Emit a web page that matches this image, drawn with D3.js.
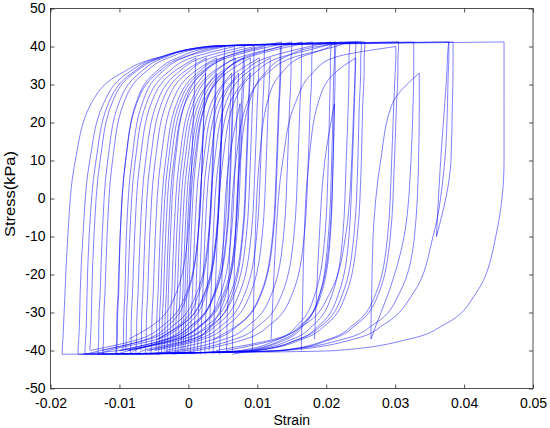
<!DOCTYPE html>
<html>
<head>
  <title>Stress-strain loops</title>
  <script src="https://d3js.org/d3.v7.min.js"></script>
  <style>
    body { margin: 0; background: #fff; }
    text { font-family: "Liberation Sans", Arial, sans-serif; }
  </style>
</head>
<body>
<script type="text/javascript">

// ****** DATA ******

  // every branch gives the strain at these stress levels (kPa), null = not reached
  var stressLevels = [-41, -40, -37, -33, -25, -10, 10, 25, 33, 37, 40, 41.2];

  // loading branches (stress going up)
  var loadingBranches = [
    [-0.0183, -0.0183, -0.0182, -0.0181, -0.0179, -0.0175, -0.0164, -0.0141, -0.0097, -0.0046, 0.0044, 0.0458],
    [-0.0160, -0.0160, -0.0159, -0.0158, -0.0157, -0.0153, -0.0143, -0.0123, -0.0088, -0.0045, 0.0031, 0.0384],
    [-0.0150, -0.0150, -0.0149, -0.0148, -0.0147, -0.0144, -0.0134, -0.0116, -0.0082, -0.0042, 0.0030, 0.0378],
    [null, -0.0143, -0.0142, -0.0141, -0.0140, -0.0137, -0.0128, -0.0111, -0.0079, -0.0040, 0.0026, 0.0327],
    [-0.0131, -0.0131, -0.0130, -0.0130, -0.0128, -0.0125, -0.0117, -0.0101, -0.0071, -0.0036, 0.0027, 0.0305],
    [-0.0124, -0.0124, -0.0123, -0.0123, -0.0121, -0.0118, -0.0110, -0.0094, -0.0064, -0.0029, 0.0034, 0.0256],
    [-0.0104, -0.0104, -0.0103, -0.0103, -0.0101, -0.0099, -0.0091, -0.0076, -0.0049, -0.0016, 0.0042, 0.0251],
    [null, -0.0095, -0.0094, -0.0094, -0.0092, -0.0090, -0.0082, -0.0067, -0.0040, -0.0007, 0.0051, 0.0243],
    [-0.0105, -0.0105, -0.0104, -0.0104, -0.0102, -0.0099, -0.0091, -0.0075, -0.0045, -0.0010, 0.0053, null],
    [null, -0.0091, -0.0090, -0.0090, -0.0088, -0.0085, -0.0077, -0.0061, -0.0031, 0.0004, 0.0067, null],
    [-0.0084, -0.0084, -0.0083, -0.0083, -0.0081, -0.0078, -0.0070, -0.0054, -0.0024, 0.0011, null, null],
    [-0.0076, -0.0076, -0.0075, -0.0075, -0.0073, -0.0070, -0.0062, -0.0046, -0.0016, 0.0019, 0.0082, null],
    [null, -0.0069, -0.0068, -0.0068, -0.0066, -0.0063, -0.0055, -0.0039, -0.0009, 0.0026, null, null],
    [-0.0062, -0.0062, -0.0061, -0.0061, -0.0059, -0.0056, -0.0048, -0.0032, -0.0002, 0.0033, 0.0096, null],
    [-0.0054, -0.0054, -0.0053, -0.0053, -0.0051, -0.0048, -0.0040, -0.0024, 0.0006, 0.0041, null, null],
    [null, -0.0047, -0.0046, -0.0046, -0.0044, -0.0041, -0.0033, -0.0017, 0.0013, 0.0048, 0.0111, null],
    [-0.0043, -0.0043, -0.0042, -0.0042, -0.0040, -0.0037, -0.0029, -0.0013, 0.0017, 0.0052, null, null],
    [-0.0039, -0.0039, -0.0038, -0.0038, -0.0036, -0.0033, -0.0025, -0.0009, 0.0021, 0.0056, 0.0119, 0.0150],
    [null, -0.0035, -0.0034, -0.0034, -0.0032, -0.0029, -0.0021, -0.0005, 0.0025, null, null, null],
    [-0.0031, -0.0031, -0.0030, -0.0030, -0.0029, -0.0026, -0.0019, -0.0005, 0.0020, 0.0050, 0.0104, 0.0135],
    [-0.0027, -0.0027, -0.0026, -0.0026, -0.0024, -0.0021, -0.0013, 0.0003, 0.0033, 0.0068, null, null],
    [null, -0.0023, -0.0022, -0.0022, -0.0020, -0.0017, -0.0009, 0.0007, 0.0037, 0.0072, 0.0135, 0.0165],
    [-0.0019, -0.0019, -0.0018, -0.0018, -0.0016, -0.0013, -0.0005, 0.0011, 0.0041, null, null, null],
    [-0.0015, -0.0015, -0.0014, -0.0014, -0.0012, -0.0009, -0.0001, 0.0015, 0.0045, 0.0080, null, null],
    [null, -0.0011, -0.0010, -0.0010, -0.0008, -0.0005, 0.0003, 0.0019, 0.0049, 0.0084, 0.0147, 0.0180],
    [-0.0008, -0.0008, -0.0007, -0.0007, -0.0005, -0.0002, 0.0006, 0.0022, 0.0052, null, null, null],
    [-0.0005, -0.0005, -0.0004, -0.0004, -0.0002, 0.0001, 0.0009, 0.0025, 0.0055, 0.0090, null, null],
    [null, -0.0001, 0.0000, 0.0000, 0.0001, 0.0004, 0.0011, 0.0025, 0.0050, 0.0080, 0.0134, null],
    [0.0003, 0.0003, 0.0004, 0.0004, 0.0006, 0.0009, 0.0017, 0.0033, 0.0063, null, null, null],
    [0.0008, 0.0008, 0.0009, 0.0009, 0.0011, 0.0014, 0.0022, 0.0038, 0.0068, 0.0103, null, null],
    [null, 0.0013, 0.0014, 0.0014, 0.0016, 0.0019, 0.0027, 0.0043, 0.0073, null, null, null],
    [0.0018, 0.0018, 0.0019, 0.0019, 0.0021, 0.0024, 0.0032, 0.0048, 0.0078, 0.0113, 0.0176, 0.0207],
    [0.0024, 0.0024, 0.0025, 0.0025, 0.0027, 0.0030, 0.0038, 0.0054, 0.0084, 0.0119, null, null],
    [null, 0.0030, 0.0031, 0.0031, 0.0033, 0.0036, 0.0044, 0.0060, 0.0090, null, null, null],
    [0.0036, 0.0036, 0.0037, 0.0037, 0.0039, 0.0042, 0.0050, 0.0066, 0.0096, 0.0131, 0.0194, 0.0214],
    [0.0045, 0.0045, 0.0046, 0.0046, 0.0048, 0.0051, 0.0059, 0.0075, null, null, null, null],
    [null, 0.0055, 0.0056, 0.0056, 0.0058, 0.0061, 0.0069, 0.0085, 0.0115, 0.0150, 0.0213, 0.0234],
    [null, 0.0064, 0.0064, 0.0065, 0.0066, 0.0068, 0.0075, 0.0088, 0.0111, 0.0138, 0.0188, 0.0247],
    [null, 0.0093, 0.0093, 0.0094, 0.0095, 0.0097, 0.0103, 0.0114, 0.0135, 0.0161, 0.0205, 0.0212],
    [null, null, 0.0120, 0.0121, 0.0123, 0.0127, 0.0137, 0.0155, 0.0180, 0.0210, 0.0301, null],
    [null, 0.0164, 0.0164, 0.0165, 0.0166, 0.0168, 0.0175, 0.0188, 0.0212, 0.0243, null, null],
    [null, null, 0.0183, 0.0184, 0.0186, 0.0190, 0.0198, 0.0212, null, null, null, null],
    [null, null, 0.0265, 0.0265, 0.0266, 0.0268, 0.0279, 0.0296, 0.0335, null, null, null],
    [null, null, null, null, null, 0.0360, 0.0366, 0.0372, 0.0375, 0.0376, 0.0377, 0.0378]
  ];

  // unloading branches (stress going down), same stress levels
  var unloadingBranches = [
    [-0.0183, 0.0215, 0.0320, 0.0373, 0.0417, 0.0446, 0.0458, 0.0458, 0.0458, 0.0458, 0.0458, 0.0458],
    [null, null, null, null, null, 0.0360, 0.0381, 0.0383, 0.0384, 0.0384, 0.0384, 0.0384],
    [-0.0160, 0.0140, 0.0240, 0.0285, 0.0326, 0.0355, 0.0372, 0.0376, 0.0377, 0.0378, 0.0378, 0.0378],
    [null, null, 0.0265, 0.0273, 0.0290, 0.0313, 0.0323, 0.0326, 0.0327, 0.0327, 0.0327, 0.0327],
    [-0.0150, 0.0130, 0.0225, 0.0270, 0.0306, 0.0328, 0.0334, 0.0335, 0.0335, null, null, null],
    [-0.0143, 0.0133, 0.0204, 0.0241, 0.0272, 0.0289, 0.0295, 0.0298, 0.0300, 0.0301, 0.0301, null],
    [-0.0131, 0.0137, 0.0208, 0.0245, 0.0276, 0.0293, 0.0299, 0.0302, 0.0304, 0.0304, 0.0305, 0.0305],
    [-0.0124, 0.0100, 0.0166, 0.0201, 0.0229, 0.0245, 0.0251, 0.0253, 0.0255, 0.0255, 0.0256, 0.0256],
    [-0.0104, 0.0095, 0.0161, 0.0196, 0.0224, 0.0240, 0.0246, 0.0248, 0.0250, 0.0250, 0.0251, 0.0251],
    [-0.0095, 0.0099, 0.0160, 0.0192, 0.0218, 0.0233, 0.0238, 0.0241, 0.0242, 0.0242, 0.0243, 0.0243],
    [-0.0083, 0.0090, 0.0151, 0.0183, 0.0209, 0.0224, 0.0229, 0.0232, 0.0233, 0.0233, 0.0234, 0.0234],
    [-0.0075, 0.0082, 0.0138, 0.0167, 0.0191, 0.0205, 0.0210, 0.0212, 0.0213, 0.0213, 0.0214, 0.0214],
    [-0.0056, 0.0075, 0.0131, 0.0160, 0.0184, 0.0198, 0.0203, 0.0205, 0.0206, 0.0206, 0.0207, 0.0207],
    [0.0064, 0.0092, 0.0143, 0.0169, 0.0191, 0.0203, 0.0208, 0.0210, 0.0211, 0.0212, 0.0212, 0.0212],
    [-0.0131, -0.0115, -0.0044, -0.0007, 0.0024, 0.0041, 0.0047, 0.0050, 0.0052, 0.0052, 0.0053, null],
    [null, -0.0101, -0.0030, 0.0007, 0.0038, 0.0055, 0.0061, 0.0064, 0.0066, 0.0066, 0.0067, null],
    [null, null, -0.0086, -0.0049, -0.0018, -0.0001, 0.0005, 0.0008, 0.0010, 0.0011, null, null],
    [-0.0104, -0.0086, -0.0015, 0.0022, 0.0053, 0.0070, 0.0076, 0.0079, 0.0081, 0.0081, 0.0082, null],
    [null, -0.0142, -0.0071, -0.0034, -0.0003, 0.0014, 0.0020, 0.0023, 0.0025, 0.0026, null, null],
    [null, null, -0.0001, 0.0036, 0.0067, 0.0084, 0.0090, 0.0093, 0.0095, 0.0095, 0.0096, null],
    [-0.0150, -0.0127, -0.0056, -0.0019, 0.0012, 0.0029, 0.0035, 0.0038, 0.0040, 0.0041, null, null],
    [null, -0.0057, 0.0014, 0.0051, 0.0082, 0.0099, 0.0105, 0.0108, 0.0110, 0.0110, 0.0111, null],
    [null, null, -0.0045, -0.0008, 0.0023, 0.0040, 0.0046, 0.0049, 0.0051, 0.0052, null, null],
    [-0.0062, -0.0018, 0.0053, 0.0090, 0.0121, 0.0138, 0.0144, 0.0147, 0.0149, 0.0149, 0.0150, 0.0150],
    [null, -0.0125, -0.0060, -0.0027, -0.0001, 0.0014, 0.0020, 0.0023, 0.0025, null, null, null],
    [null, -0.0033, 0.0038, 0.0075, 0.0106, 0.0123, 0.0129, 0.0132, 0.0134, 0.0134, 0.0135, 0.0135],
    [-0.0155, -0.0100, -0.0029, 0.0008, 0.0039, 0.0056, 0.0062, 0.0065, 0.0067, 0.0068, null, null],
    [-0.0047, -0.0003, 0.0068, 0.0105, 0.0136, 0.0153, 0.0159, 0.0162, 0.0164, 0.0164, 0.0165, 0.0165],
    [null, null, -0.0044, -0.0011, 0.0015, 0.0030, 0.0036, 0.0039, 0.0041, null, null, null],
    [null, -0.0088, -0.0017, 0.0020, 0.0051, 0.0068, 0.0074, 0.0077, 0.0079, 0.0080, null, null],
    [-0.0023, 0.0012, 0.0083, 0.0120, 0.0151, 0.0168, 0.0174, 0.0177, 0.0179, 0.0179, 0.0180, 0.0180],
    [null, -0.0098, -0.0033, 0.0000, 0.0026, 0.0041, 0.0047, 0.0050, 0.0052, null, null, null],
    [-0.0084, -0.0078, -0.0007, 0.0030, 0.0061, 0.0078, 0.0084, 0.0087, 0.0089, 0.0090, null, null],
    [null, null, 0.0037, 0.0074, 0.0105, 0.0122, 0.0128, 0.0131, 0.0133, 0.0133, 0.0134, null],
    [null, -0.0087, -0.0022, 0.0011, 0.0037, 0.0052, 0.0058, 0.0061, 0.0063, null, null, null],
    [-0.0076, -0.0065, 0.0006, 0.0043, 0.0074, 0.0091, 0.0097, 0.0100, 0.0102, 0.0103, null, null],
    [null, null, -0.0012, 0.0021, 0.0047, 0.0062, 0.0068, 0.0071, 0.0073, null, null, null],
    [null, -0.0049, 0.0022, 0.0059, 0.0090, 0.0107, 0.0113, 0.0116, 0.0118, 0.0119, null, null],
    [null, -0.0060, 0.0005, 0.0038, 0.0064, 0.0079, 0.0085, 0.0088, 0.0090, null, null, null],
    [null, null, 0.0015, 0.0035, 0.0055, 0.0068, 0.0073, 0.0075, null, null, null, null],
    [null, 0.0040, 0.0125, 0.0170, 0.0205, 0.0228, 0.0237, 0.0240, 0.0242, 0.0243, null, null],
    [null, 0.0055, 0.0130, 0.0165, 0.0193, 0.0206, 0.0210, 0.0212, null, null, null, null]
  ];

  var xTicks = [-0.02, -0.01, 0, 0.01, 0.02, 0.03, 0.04, 0.05],
      xTickLabels = ["-0.02", "-0.01", "0", "0.01", "0.02", "0.03", "0.04", "0.05"];
  var yTicks = [-50, -40, -30, -20, -10, 0, 10, 20, 30, 40, 50],
      yTickLabels = ["-50", "-40", "-30", "-20", "-10", "0", "10", "20", "30", "40", "50"];


// ****** SIZES AND SCALES ******

  var svgWidth = 550,
      svgHeight = 428,
      plotLeft = 50.5, plotRight = 533,
      plotTop = 8.5, plotBottom = 388.5;

  var x = d3.scaleLinear().domain([-0.02, 0.05]).range([plotLeft, plotRight]);
  var y = d3.scaleLinear().domain([-50, 50]).range([plotBottom, plotTop]);


// ****** CREATE ELEMENTS ******

  var svg = d3.select("body")
    .append("svg")
    .attr("width", svgWidth)
    .attr("height", svgHeight);

  svg.append("clipPath")
    .attr("id", "plot-area")
    .append("rect")
    .attr("x", plotLeft).attr("y", plotTop)
    .attr("width", plotRight - plotLeft).attr("height", plotBottom - plotTop);

  // one path per branch; strain is monotone in stress, so a monotone curve along y
  var branchLine = d3.line()
    .x(function (d) { return x(d[0]); })
    .y(function (d) { return y(d[1]); })
    .curve(d3.curveMonotoneY);

  var allBranches = loadingBranches.concat(unloadingBranches);

  svg.append("g")
    .attr("clip-path", "url(#plot-area)")
    .selectAll("path")
    .data(allBranches)
    .enter()
    .append("path")
    .attr("d", function (row) {
      // top of the chart first, so the points run down the screen
      var pts = row.map(function (s, i) { return [s, stressLevels[i]]; })
                   .filter(function (d) { return d[0] !== null; })
                   .reverse();
      return branchLine(pts);
    })
    .style("fill", "none")
    .style("stroke", "#0000ff")
    .style("stroke-width", 0.5)
    .style("stroke-linejoin", "round");

  // axes, MATLAB style: inward ticks on all four sides
  function styleAxis(g) {
    g.select(".domain").remove();
    g.selectAll(".tick line").style("stroke", "#262626").style("stroke-width", 0.8);
    g.selectAll(".tick text")
      .style("font-family", "'Liberation Sans', Arial, sans-serif")
      .style("font-size", "14px")
      .style("fill", "#000");
  }

  svg.append("g")
    .attr("transform", "translate(0," + plotBottom + ")")
    .call(d3.axisBottom(x).tickValues(xTicks).tickSize(-4).tickPadding(10)
      .tickFormat(function (d, i) { return xTickLabels[i]; }))
    .call(styleAxis);

  svg.append("g")
    .attr("transform", "translate(0," + plotTop + ")")
    .call(d3.axisTop(x).tickValues(xTicks).tickSize(-4).tickFormat(""))
    .call(styleAxis);

  svg.append("g")
    .attr("transform", "translate(" + plotLeft + ",0)")
    .call(d3.axisLeft(y).tickValues(yTicks).tickSize(-4).tickPadding(5)
      .tickFormat(function (d, i) { return yTickLabels[i]; }))
    .call(styleAxis);

  svg.append("g")
    .attr("transform", "translate(" + plotRight + ",0)")
    .call(d3.axisRight(y).tickValues(yTicks).tickSize(-4).tickFormat(""))
    .call(styleAxis);

  svg.append("rect")
    .attr("x", plotLeft).attr("y", plotTop)
    .attr("width", plotRight - plotLeft).attr("height", plotBottom - plotTop)
    .style("fill", "none")
    .style("stroke", "#262626")
    .style("stroke-width", 0.8);

  svg.append("text")
    .attr("x", (plotLeft + plotRight) / 2)
    .attr("y", 425)
    .attr("text-anchor", "middle")
    .style("font-size", "14px")
    .text("Strain");

  // the reference title is a little stretched along its length
  svg.append("text")
    .attr("transform", "translate(15,194) rotate(-90)")
    .attr("text-anchor", "middle")
    .attr("textLength", 86)
    .attr("lengthAdjust", "spacingAndGlyphs")
    .style("font-size", "14px")
    .text("Stress(kPa)");

</script>
</body>
</html>
